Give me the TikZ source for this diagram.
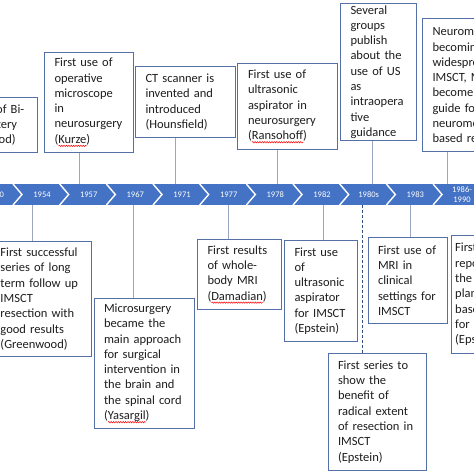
\documentclass[tikz,border=0pt]{standalone}
\usepackage{fontspec}
\setmainfont{Carlito}
\usetikzlibrary{decorations.pathmorphing}
\definecolor{barc}{HTML}{4472C4}
\definecolor{boxc}{HTML}{5570A6}
\definecolor{connc}{HTML}{9AA6BF}
\definecolor{dashc}{HTML}{34507F}
\definecolor{txtc}{HTML}{1E1E1E}
\newcommand\spellerr[1]{\setbox0\hbox{#1}\rlap{\tikz[baseline=0pt]{\draw[red, line width=0.5pt, decorate, decoration={snake, amplitude=0.7pt, segment length=2.4pt}] (0pt,-2.6pt) -- (\wd0,-2.6pt);}}\box0}
\begin{document}
\begin{tikzpicture}[x=1pt,y=-1pt,
  font=\fontsize{12.5}{15.3}\selectfont,
  box/.style={draw=boxc, line width=1pt, fill=white, text=txtc, align=left,
    anchor=north west, inner xsep=10pt, inner ysep=2pt},
  conn/.style={draw=connc, line width=0.9pt},
  yr/.style={text=white, font=\fontsize{8.5}{10}\selectfont, inner sep=0pt, align=center}]
\useasboundingbox (0,0) rectangle (474,474);
\clip (0,0) rectangle (474,474);
\fill[white] (0,0) rectangle (474,474);

% timeline bar
\node[fill=barc, minimum width=520pt, minimum height=21pt, inner sep=0pt, anchor=north west] (bar) at (-30,184) {};
\foreach \k in {0,...,9}
  \draw[white, line width=1.4pt] ({13+46.67*\k},184) -- ({22+46.67*\k},194.5) -- ({13+46.67*\k},205);
\node[yr] (y1940) at (-4.7,194.5) {1940};
\node[yr] (y1954) at (42,194.5) {1954};
\node[yr] (y1957) at (88.7,194.5) {1957};
\node[yr] (y1967) at (135.3,194.5) {1967};
\node[yr] (y1971) at (182,194.5) {1971};
\node[yr] (y1977) at (228.7,194.5) {1977};
\node[yr] (y1978) at (275.3,194.5) {1978};
\node[yr] (y1982) at (322,194.5) {1982};
\node[yr] (y1980s) at (368.7,194.5) {1980s};
\node[yr] (y1983) at (415.3,194.5) {1983};
\node[yr] (y1986) at (462,194.5) {1986-\\1990};

% upper boxes
\node[box, text width=79pt, minimum height=55pt] (bipolar) at (-62,97) {First use of Bi-\\polar cautery\\(Greenwood)};
\node[box, text width=69pt, minimum height=100pt] (kurze) at (44,52) {First use of\\operative\\microscope\\in\\neurosurgery\\(\spellerr{Kurze})};
\node[box, text width=80pt, minimum height=71pt] (ct) at (135,66) {CT scanner is\\invented and\\introduced\\(Hounsfield)};
\node[box, text width=79pt, minimum height=86pt, inner xsep=10.5pt] (ranso) at (237,63) {First use of\\ultrasonic\\aspirator in\\neurosurgery\\(\spellerr{Ransohoff})};
\node[box, text width=56pt, minimum height=137pt, inner ysep=0pt] (us) at (340,3) {Several\\groups\\publish\\about the\\use of US\\as\\intraopera\\tive\\guidance};
\node[box, text width=110pt, minimum height=133pt] (neuro) at (422,18) {Neuromonitoring\\becoming\\widespread in\\IMSCT, MEPs\\become the\\guide for\\neuromonitoring-\\based resection};

% lower boxes
\node[box, text width=81pt, minimum height=115pt] (green) at (-10,241) {First successful\\series of long\\term follow up\\IMSCT\\resection with\\good results\\(Greenwood)};
\node[box, text width=81pt, minimum height=130pt, inner xsep=9.5pt] (yasa) at (94,298) {Microsurgery\\became the\\main approach\\for surgical\\intervention in\\the brain and\\the spinal cord\\(\spellerr{Yasargil})};
\node[box, text width=64pt, minimum height=70pt] (dama) at (197,239) {First results\\of whole-\\body MRI\\(\spellerr{Damadian})};
\node[box, text width=53pt, minimum height=101pt] (epus) at (284,240) {First use\\of\\ultrasonic\\aspirator\\for IMSCT\\(Epstein)};
\node[box, text width=79pt, minimum height=117pt, inner xsep=9.5pt] (series) at (328,353) {First series to\\show the\\benefit of\\radical extent\\of resection in\\IMSCT\\(Epstein)};
\node[box, text width=60pt, minimum height=86pt, inner xsep=9.5pt] (mri) at (368,237) {First use of\\MRI in\\clinical\\settings for\\IMSCT};
\node[box, text width=110pt, minimum height=118pt, inner xsep=4pt] (plane) at (450.7,235) {First\\report of\\the\\plane-\\based\\for IMSCT\\(Epstein)};

% connectors, upper
\draw[conn] ([xshift=35pt]kurze.south west) -- ([xshift=35pt]kurze.south west |- bar.north);
\draw[conn] ([xshift=40pt]ct.south west) -- ([xshift=40pt]ct.south west |- bar.north);
\draw[conn] ([xshift=40pt]ranso.south west) -- ([xshift=40pt]ranso.south west |- bar.north);
\draw[conn] ([xshift=32pt]us.south west) -- ([xshift=32pt]us.south west |- bar.north);
\draw[conn] ([xshift=25pt]neuro.south west) -- ([xshift=25pt]neuro.south west |- bar.north);
% connectors, lower
\draw[conn] ([xshift=42pt]green.north west) -- ([xshift=42pt]green.north west |- bar.south);
\draw[conn] ([xshift=39pt]yasa.north west) -- ([xshift=39pt]yasa.north west |- bar.south);
\draw[conn] ([xshift=31pt]dama.north west) -- ([xshift=31pt]dama.north west |- bar.south);
\draw[conn] ([xshift=39pt]epus.north west) -- ([xshift=39pt]epus.north west |- bar.south);
\draw[conn] ([xshift=42pt]mri.north west) -- ([xshift=42pt]mri.north west |- bar.south);
\draw[draw=dashc, line width=1pt, dash pattern=on 3pt off 2pt] ([xshift=34pt]series.north west) -- ([xshift=34pt]series.north west |- bar.south);
\end{tikzpicture}
\end{document}
